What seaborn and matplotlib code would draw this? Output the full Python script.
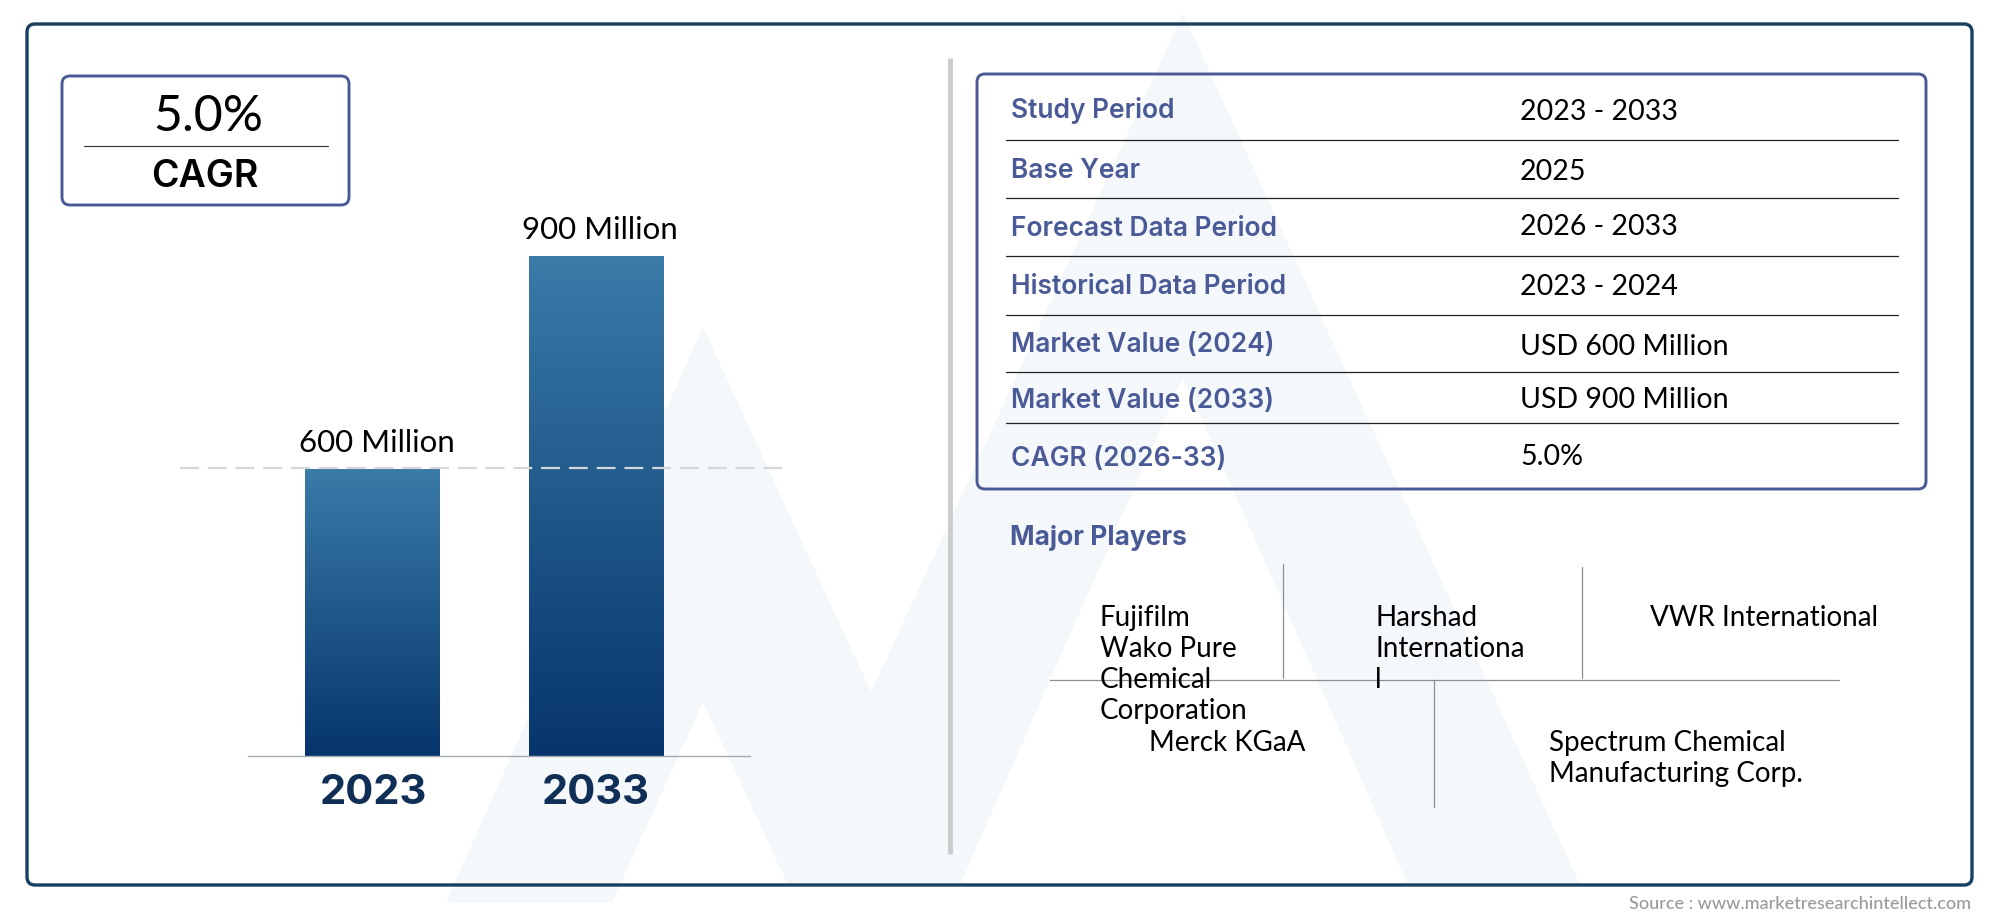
"""Market size card: CAGR box, bar chart, study table and major players."""

import numpy as np
import matplotlib.pyplot as plt
from matplotlib.patches import FancyBboxPatch, Polygon
import seaborn as sns

years = ['2023', '2033']
market_values = [600, 900]
value_labels = ['600 Million', '900 Million']

table_labels = ['Study Period', 'Base Year', 'Forecast Data Period', 'Historical Data Period',
                'Market Value (2024)', 'Market Value (2033)', 'CAGR (2026-33)']
table_values = ['2023 - 2033', '2025', '2026 - 2033', '2023 - 2024',
                'USD 600 Million', 'USD 900 Million', '5.0%']

NAVY = '#0f2f57'
FRAME = '#173f5f'
BLUE = '#4a5a96'
BODY_FONT = 'Lato'
HEAD_FONT = 'Inter'

sns.set_theme(style='white')

W, H = 2000, 917
fig = plt.figure(figsize=(W / 100, H / 100), dpi=100)

# full figure axes in pixels for the card furniture
bg = fig.add_axes([0, 0, 1, 1])
bg.set_xlim(0, W)
bg.set_ylim(H, 0)
bg.axis('off')


def round_box(x0, y0, x1, y1, color, lw, pad=8):
    bg.add_patch(FancyBboxPatch((x0, y0), x1 - x0, y1 - y0, boxstyle=f'round,pad=0,rounding_size={pad}',
                                fc='none', ec=color, lw=lw, zorder=3))


# watermark
WM = '#f5f8fb'
bg.add_patch(Polygon([(703, 327), (446, 902), (612, 902), (703, 702), (788, 885), (960, 885)], fc=WM, ec='none'))
bg.add_patch(Polygon([(1183, 13), (869, 697), (960, 885), (1183, 377), (1408, 885), (1580, 885)], fc=WM, ec='none'))

round_box(27, 24, 1972, 885, FRAME, 2.4)
round_box(62, 76, 349, 205, BLUE, 2.1)
round_box(977, 74, 1926, 489, BLUE, 2.1)
bg.plot([950, 950], [58, 854], color='#cccccc', lw=3.5, solid_capstyle='butt')

# CAGR box
bg.plot([84, 328], [146, 146], color='#333333', lw=0.8)
bg.text(208, 117, '5.0%', ha='center', va='center', fontsize=36, family=BODY_FONT, color='black')
bg.text(205, 177, 'CAGR', ha='center', va='center', fontsize=27, family=HEAD_FONT, weight='semibold', color='black')

# bars
ax = fig.add_axes([248 / W, 1 - 756 / H, 502 / W, 520 / H])
ax.patch.set_alpha(0)
sns.barplot(x=years, y=market_values, width=0.605, color=NAVY, ax=ax)
# axis does not start at zero, the drawn bars are not proportional in the source
y_floor = 197
y_ceil = 197 + 520 / 0.71
gradient = sns.blend_palette(['#3a7ba8', '#06356c'], 128, as_cmap=True)
grad = np.linspace(0, 1, 256).reshape(-1, 1)
for bar in ax.patches:
    x0, x1 = bar.get_x(), bar.get_x() + bar.get_width()
    ax.imshow(grad, extent=[x0, x1, y_floor, bar.get_height()], cmap=gradient, aspect='auto', zorder=2)
    bar.set_visible(False)
ax.set_xlim(-0.56, 1.69)
ax.set_ylim(y_floor, y_ceil)
for i, (value, label) in enumerate(zip(market_values, value_labels)):
    ax.annotate(label, (i, value), xytext=(3, 19), textcoords='offset points', ha='center', va='center',
                fontsize=22.5, family=BODY_FONT, color='black', annotation_clip=False)
sns.despine(ax=ax, left=True)
ax.spines['bottom'].set_color('#a3abb5')
ax.spines['bottom'].set_linewidth(1)
ax.set_yticks([])
ax.set_xlabel('')
ax.set_ylabel('')
ax.tick_params(axis='x', length=0, pad=13)
for tick in ax.get_xticklabels():
    tick.set_fontsize(30)
    tick.set_fontweight('bold')
    tick.set_family(HEAD_FONT)
    tick.set_color(NAVY)

# dashed guide over the bars
bg_top = fig.add_axes([0, 0, 1, 1])
bg_top.set_xlim(0, W)
bg_top.set_ylim(H, 0)
bg_top.axis('off')
bg_top.plot([180, 790], [468, 468], color='#d4d6d9', lw=1.6, dashes=(8.5, 4))

# study table
label_y = [111, 171, 229, 287, 345, 401, 459]
value_y = [112, 172, 227, 287, 347, 400, 457]
rule_y = [140, 198, 256, 315, 372, 423]
for label, value, ly, vy in zip(table_labels, table_values, label_y, value_y):
    bg.text(1011, ly, label, va='center', fontsize=19, family=HEAD_FONT, weight='semibold', color=BLUE)
    bg.text(1520, vy, value, va='center', fontsize=20.5, family=BODY_FONT, color='black')
for y in rule_y:
    bg.plot([1006, 1898], [y, y], color='#222222', lw=0.9)

# major players
bg.text(1010, 538, 'Major Players', va='center', fontsize=19, family=HEAD_FONT, weight='bold', color=BLUE)
bg.plot([1050, 1839], [680, 680], color='#8a8f96', lw=0.9)
bg.plot([1283, 1283], [564, 678], color='#8a8f96', lw=0.9)
bg.plot([1582, 1582], [567, 678], color='#8a8f96', lw=0.9)
bg.plot([1434, 1434], [680, 807], color='#8a8f96', lw=0.9)

players = [(1100, 618, ['Fujifilm', 'Wako Pure', 'Chemical', 'Corporation']),
           (1375, 618, ['Harshad', 'Internationa', 'l']),
           (1650, 618, ['VWR International']),
           (1149, 743, ['Merck KGaA']),
           (1549, 743, ['Spectrum Chemical', 'Manufacturing Corp.'])]
for x, y, lines in players:
    for n, line in enumerate(lines):
        bg.text(x, y + n * 31, line, va='center', fontsize=20, family=BODY_FONT, color='black')

bg.text(1971, 904, 'Source : www.marketresearchintellect.com', ha='right', va='center', fontsize=13,
        family=BODY_FONT, weight='medium', color='#9a9a9a')

fig.savefig('out.png', dpi=100)
